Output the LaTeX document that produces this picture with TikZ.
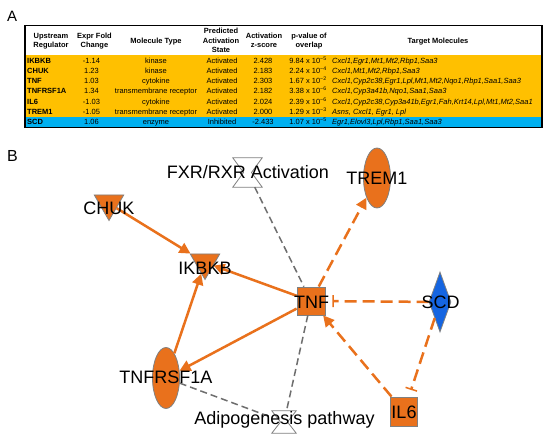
\documentclass[tikz,border=0pt]{standalone}
\usepackage{fontspec}
\setmainfont{Liberation Sans}
\usetikzlibrary{shapes.geometric,arrows.meta}
\definecolor{nodeor}{RGB}{233,113,28}
\definecolor{tabor}{RGB}{255,192,0}
\definecolor{tabbl}{RGB}{0,176,240}
\definecolor{scdbl}{RGB}{21,101,225}
\definecolor{edgegr}{RGB}{110,110,110}
\definecolor{outl}{RGB}{128,128,128}
\newcommand\mytabfont{\fontsize{7.5}{9}\selectfont}
\newcommand\myrow[9]{%
 \node[tabc, anchor=base west, font=\mytabfont\bfseries] (#1reg) at (27,#2) {#3};
 \node[tabc] (#1fc) at (91.5,#2) {#4};
 \node[tabc] (#1mt) at (156,#2) {#5};
 \node[tabc] (#1st) at (222,#2) {#6};
 \node[tabc] (#1z) at (263,#2) {#7};
 \node[tabc] (#1p) at (308,#2) {#8};
 \node[tabc, anchor=base west, font=\mytabfont\itshape] (#1tg) at (332,#2) {#9};
}
\tikzset{
 tabc/.style={inner sep=0pt, anchor=base, font=\mytabfont},
 tabh/.style={inner sep=0pt, anchor=base, font=\mytabfont\bfseries},
 lbl/.style={font=\fontsize{18}{20}\selectfont, inner sep=0pt, anchor=base},
 ornode/.style={fill=nodeor, draw=outl, line width=0.8pt, inner sep=0pt},
 downtri/.style={ornode, regular polygon, regular polygon sides=3, shape border rotate=180, minimum size=34pt},
 orell/.style={ornode, ellipse, minimum width=27pt, minimum height=60pt},
 orbox/.style={ornode, rectangle, minimum width=28pt, minimum height=28pt},
 bldiam/.style={fill=scdbl, draw=outl, line width=0.8pt, diamond, minimum width=22pt, minimum height=60pt, inner sep=0pt},
 pathwaybox/.style={rectangle, inner sep=0pt},
 act/.style={draw=nodeor, line width=2.5pt, -{Triangle[length=11pt,width=11pt]}},
 actd/.style={act, dash pattern=on 12pt off 6pt},
 inh/.style={draw=nodeor, line width=2.5pt, dash pattern=on 12pt off 6pt, -{Bar[width=12pt,line width=1.5pt]}, shorten >=7pt},
 rel/.style={draw=edgegr, line width=1.5pt, dash pattern=on 7pt off 4pt},
 hourglass/.style={draw=outl, line width=0.8pt, fill=white}
}
\begin{document}
\begin{tikzpicture}[x=1pt,y=-1pt]
\fill[white] (0,0) rectangle (550,441);
\useasboundingbox (0,0) rectangle (550,441);
% ---------- Panel A ----------
\node[font=\fontsize{15}{18}\selectfont, inner sep=0pt, anchor=base west] (labA) at (7,22) {A};
\fill[tabor] (25,55.5) rectangle (542,116.7);
\fill[tabbl] (25,116.7) rectangle (542,127.2);
\draw[line width=1.2pt] (25,25.5) rectangle (542,127.5);
% header
\node[tabh] (h1a) at (51,38.5) {Upstream};
\node[tabh] (h1b) at (51,47.8) {Regulator};
\node[tabh] (h2a) at (94.5,38.5) {Expr Fold};
\node[tabh] (h2b) at (94.5,47.8) {Change};
\node[tabh] (h3) at (156,43.5) {Molecule Type};
\node[tabh] (h4a) at (221,33.8) {Predicted};
\node[tabh] (h4b) at (221,43.3) {Activation};
\node[tabh] (h4c) at (221,52.6) {State};
\node[tabh] (h5a) at (264,38.5) {Activation};
\node[tabh] (h5b) at (264,47.8) {z-score};
\node[tabh] (h6a) at (309,38.5) {p-value of};
\node[tabh] (h6b) at (309,47.8) {overlap};
\node[tabh] (h7) at (438,43.5) {Target Molecules};
% rows
\myrow{r1}{63.3}{IKBKB}{-1.14}{kinase}{Activated}{2.428}{9.84 x 10\textsuperscript{−5}}{Cxcl1,Egr1,Mt1,Mt2,Rbp1,Saa3}
\myrow{r2}{73.5}{CHUK}{1.23}{kinase}{Activated}{2.183}{2.24 x 10\textsuperscript{−4}}{Cxcl1,Mt1,Mt2,Rbp1,Saa3}
\myrow{r3}{83.7}{TNF}{1.03}{cytokine}{Activated}{2.303}{1.67 x 10\textsuperscript{−2}}{Cxcl1,Cyp2c38,Egr1,Lpl,Mt1,Mt2,Nqo1,Rbp1,Saa1,Saa3}
\myrow{r4}{93.9}{TNFRSF1A}{1.34}{transmembrane receptor}{Activated}{2.182}{3.38 x 10\textsuperscript{−6}}{Cxcl1,Cyp3a41b,Nqo1,Saa1,Saa3}
\myrow{r5}{104.1}{IL6}{-1.03}{cytokine}{Activated}{2.024}{2.39 x 10\textsuperscript{−6}}{Cxcl1,Cyp2c38,Cyp3a41b,Egr1,Fah,Krt14,Lpl,Mt1,Mt2,Saa1}
\myrow{r6}{114.3}{TREM1}{-1.05}{transmembrane receptor}{Activated}{2.000}{1.29 x 10\textsuperscript{−3}}{Asns, Cxcl1, Egr1, Lpl}
\myrow{r7}{124.5}{SCD}{1.06}{enzyme}{Inhibited}{-2.433}{1.07 x 10\textsuperscript{−5}}{Egr1,Elovl3,Lpl,Rbp1,Saa1,Saa3}
% ---------- Panel B ----------
\node[font=\fontsize{16}{19}\selectfont, inner sep=0pt, anchor=base west] (labB) at (7,162) {B};
% shapes
\node[pathwaybox, minimum width=29pt, minimum height=29pt] (fxr) at (247.5,172.5) {};
\draw[hourglass] (fxr.north west) -- (fxr.north east) -- ([xshift=4pt]fxr.center) -- (fxr.south east) -- (fxr.south west) -- ([xshift=-4pt]fxr.center) -- cycle;
\node[pathwaybox, minimum width=24pt, minimum height=22pt] (adipo) at (284,422) {};
\draw[hourglass] (adipo.north west) -- (adipo.north east) -- ([xshift=3.5pt]adipo.center) -- (adipo.south east) -- (adipo.south west) -- ([xshift=-3.5pt]adipo.center) -- cycle;
\node[downtri] (chuk) at (109,203.5) {};
\node[downtri] (ikbkb) at (205,262.5) {};
\node[orell] (trem1) at (377,178) {};
\node[orell, minimum height=61pt] (tnfr) at (166,378) {};
\node[orbox] (tnf) at (311,301) {};
\node[orbox, minimum width=27pt, minimum height=29pt] (il6) at (404,411.5) {};
\node[bldiam] (scd) at (440,302) {};
% edges
\draw[rel] (fxr) -- (tnf);
\draw[rel] (tnf) -- (adipo);
\draw[rel] (tnfr) -- (adipo);
\draw[act] (chuk) -- (ikbkb);
\draw[act] (tnf) -- (ikbkb);
\draw[act] (tnfr) -- (ikbkb);
\draw[act] (tnf) -- (tnfr);
\draw[actd] (tnf) -- (trem1);
\draw[actd] (il6) -- (tnf);
\draw[inh] (scd) -- (tnf);
\draw[inh] (scd) -- (il6);
% labels
\node[lbl] (tfxr) at (248,179) {FXR/RXR Activation};
\node[lbl] (ttrem1) at (377,185) {TREM1};
\node[lbl] (tchuk) at (109,215) {CHUK};
\node[lbl] (tikbkb) at (205,274.5) {IKBKB};
\node[lbl] (ttnf) at (311.5,308.5) {TNF};
\node[lbl] (tscd) at (440.5,309) {SCD};
\node[lbl] (ttnfr) at (166,384) {TNFRSF1A};
\node[lbl] (til6) at (404,419) {IL6};
\node[lbl] (tadipo) at (284.5,424.5) {Adipogenesis pathway};
\end{tikzpicture}
\end{document}
